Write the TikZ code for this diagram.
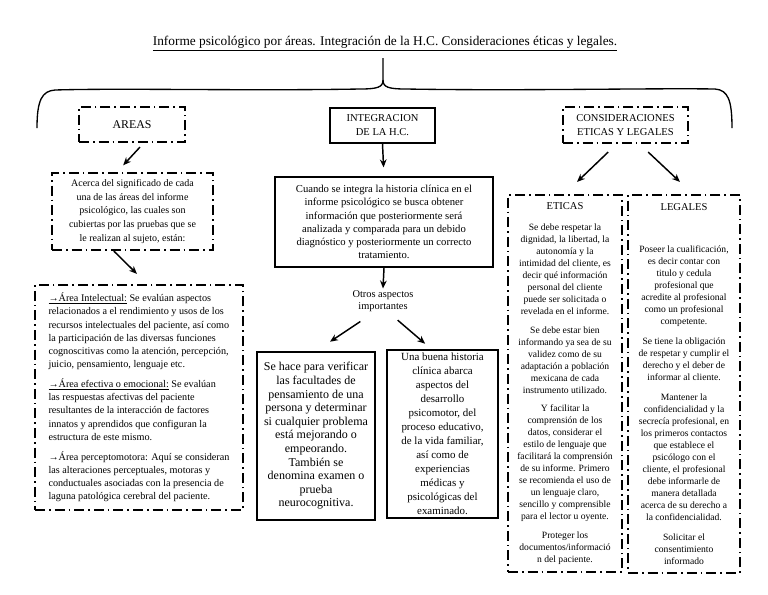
\documentclass[tikz,border=0pt]{standalone}
\usepackage{fontspec}
\setmainfont{Liberation Serif}
\usetikzlibrary{arrows.meta,positioning}

\begin{document}
\begin{tikzpicture}[x=0.75pt,y=-0.75pt,>={Stealth[length=6pt,width=5pt]},
	dashbox/.style={draw=black,rectangle,line width=1.6pt,dash pattern=on 7.5pt off 3pt on 1.2pt off 3pt,inner sep=2pt,align=center},
	solidbox/.style={draw=black,rectangle,line width=1.4pt,inner sep=2pt,align=center},
	arr/.style={->,line width=1.1pt},
	caps/.style={font=\fontsize{7.9}{10.5}\selectfont},
	body/.style={font=\fontsize{8}{9.9}\selectfont},
	side/.style={font=\fontsize{7.2}{9}\selectfont}]

\useasboundingbox (0,0) rectangle (768,594);

% title and brace
\node (title) at (385,44) {\fontsize{10}{12}\selectfont\underline{Informe psicológico por áreas. Integración de la H.C. Consideraciones éticas y legales.}};
\coordinate (stem) at (383,58);
\coordinate (cusp) at (383,80);
\coordinate (bl) at (37,128);
\coordinate (br) at (732,128);
\draw[line width=1pt] (stem) -- (cusp) .. controls (383,87) and (378,89) .. (360,89) .. controls (250,91) and (120,88) .. (55,90) .. controls (42,91) and (37,100) .. (bl);
\draw[line width=1pt] (cusp) .. controls (383,87) and (388,89) .. (406,89) .. controls (520,91) and (650,88) .. (715,89) .. controls (728,90) and (732,100) .. (br);

% top row
\node[dashbox,minimum width=79.5pt,minimum height=26.25pt,font=\fontsize{8.9}{10.5}\selectfont] (areas) at (132,124.5) {AREAS};
\node[solidbox,caps,minimum width=78.75pt,minimum height=26.25pt] (integ) at (382.5,125.5) {INTEGRACION\\DE LA H.C.};
\node[dashbox,caps,minimum width=93.75pt,minimum height=27pt] (cons) at (625.5,125) {CONSIDERACIONES\\ETICAS Y LEGALES};

% left column
\node[dashbox,minimum width=120.75pt,minimum height=57.75pt,font=\fontsize{7.5}{10.3}\selectfont] (acerca) at (132.5,211.5) {Acerca del significado de cada\\una de las áreas del informe\\psicológico, las cuales son\\cubiertas por las pruebas que se\\le realizan al sujeto, están:};
\node[dashbox,align=left,font=\fontsize{7.65}{9.9}\selectfont,minimum width=156pt,minimum height=168.75pt] (areasinf) at (139,397.5) {\underline{→Área Intelectual:} Se evalúan aspectos\\relacionados a el rendimiento y usos de los\\recursos intelectuales del paciente, así como\\la participación de las diversas funciones\\cognoscitivas como la atención, percepción,\\juicio, pensamiento, lenguaje etc.\\[5pt]\underline{→Área efectiva o emocional:} Se evalúan\\las respuestas afectivas del paciente\\resultantes de la interacción de factores\\innatos y aprendidos que configuran la\\estructura de este mismo.\\[5pt]→Área perceptomotora: Aquí se consideran\\las alteraciones perceptuales, motoras y\\conductuales asociadas con la presencia de\\laguna patológica cerebral del paciente.};

% middle column
\node[solidbox,body,minimum width=163.5pt,minimum height=67.5pt] (cuando) at (384,222) {Cuando se integra la historia clínica en el\\informe psicológico se busca obtener\\información que posteriormente será\\analizada y comparada para un debido\\diagnóstico y posteriormente un correcto\\tratamiento.};
\node[align=center,inner sep=1pt,font=\fontsize{7.8}{9.5}\selectfont] (otros) at (383,301) {Otros aspectos\\importantes};
\node[solidbox,minimum width=88.5pt,minimum height=126pt,font=\fontsize{9}{10.2}\selectfont] (verif) at (316,436) {Se hace para verificar\\las facultades de\\pensamiento de una\\persona y determinar\\si cualquier problema\\está mejorando o\\empeorando.\\También se\\denomina examen o\\prueba\\neurocognitiva.};
\node[solidbox,minimum width=83.25pt,minimum height=126pt,font=\fontsize{8.2}{10.5}\selectfont] (historia) at (442.5,434) {Una buena historia\\clínica abarca\\aspectos del\\desarrollo\\psicomotor, del\\proceso educativo,\\de la vida familiar,\\así como de\\experiencias\\médicas y\\psicológicas del\\examinado.};

% right column
\node[dashbox,side,minimum width=85.5pt,minimum height=282.75pt] (eticas) at (565,383.5) {{\fontsize{7.9}{9}\selectfont ETICAS}\\[7pt]Se debe respetar la\\dignidad, la libertad, la\\autonomía y la\\intimidad del cliente, es\\decir qué información\\personal del cliente\\puede ser solicitada o\\revelada en el informe.\\[5pt]Se debe estar bien\\informando ya sea de su\\validez como de su\\adaptación a población\\mexicana de cada\\instrumento utilizado.\\[5pt]Y facilitar la\\comprensión de los\\datos, considerar el\\estilo de lenguaje que\\facilitará la comprensión\\de su informe. Primero\\se recomienda el uso de\\un lenguaje claro,\\sencillo y comprensible\\para el lector u oyente.\\[5pt]Proteger los\\documentos/informació\\n del paciente.};
\node[dashbox,side,minimum width=84pt,minimum height=283.5pt] (legales) at (684,384) {{\fontsize{7.9}{9}\selectfont LEGALES}\\[22pt]Poseer la cualificación,\\es decir contar con\\titulo y cedula\\profesional que\\acredite al profesional\\como un profesional\\competente.\\[6pt]Se tiene la obligación\\de respetar y cumplir el\\derecho y el deber de\\informar al cliente.\\[6pt]Mantener la\\confidencialidad y la\\secrecía profesional, en\\los primeros contactos\\que establece el\\psicólogo con el\\cliente, el profesional\\debe informarle de\\manera detallada\\acerca de su derecho a\\la confidencialidad.\\[6pt]Solicitar el\\consentimiento\\informado};

% connectors
\draw[arr] ([xshift=6pt,yshift=-3pt]areas.south) -- ([xshift=-7pt,yshift=5pt]acerca.north);
\draw[arr] ([xshift=-14pt]acerca.south) -- ([xshift=-1.5pt,yshift=7.5pt]areasinf.north);
\draw[arr,shorten >=6.5pt] (integ.south) -- (cuando.north);
\draw[arr] (cuando.south) -- (otros.north);
\draw[arr] ([xshift=-17pt,yshift=-6pt]otros.south) -- ([xshift=10.5pt,yshift=7pt]verif.north);
\draw[arr] ([xshift=11pt,yshift=-5pt]otros.south) -- ([xshift=-13pt,yshift=4pt]historia.north);
\draw[arr] ([xshift=-13pt,yshift=-6pt]cons.south) -- ([xshift=9pt,yshift=9pt]eticas.north);
\draw[arr] ([xshift=17pt,yshift=-6pt]cons.south) -- ([xshift=-3pt,yshift=9pt]legales.north);

\end{tikzpicture}
\end{document}
